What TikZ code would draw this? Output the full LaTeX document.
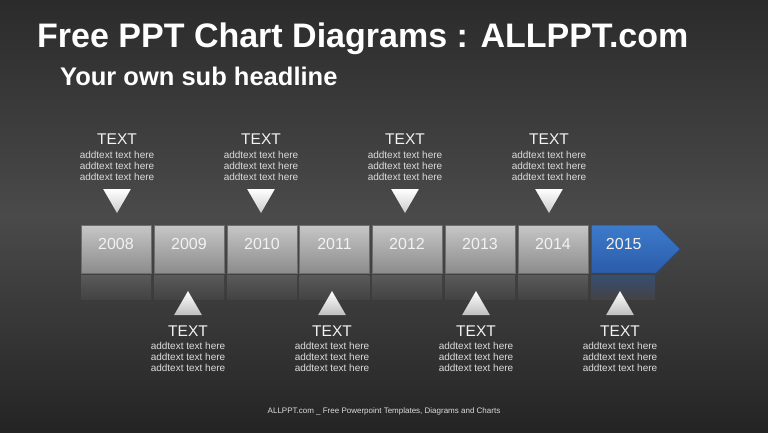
\documentclass[tikz,border=0pt]{standalone}
\usepackage{fontspec}
\setmainfont{Liberation Sans}
\usetikzlibrary{shapes.geometric,shapes.symbols,positioning}
\definecolor{bgtop}{HTML}{2B2B2B}
\definecolor{bgmid}{HTML}{4A4A4A}
\definecolor{bgbot}{HTML}{242424}
\definecolor{boxtop}{HTML}{C6C6C6}
\definecolor{boxbot}{HTML}{8C8C8C}
\definecolor{boxedge}{HTML}{6E6E6E}
\definecolor{bluetop}{HTML}{3E7BCB}
\definecolor{bluebot}{HTML}{2A5CAA}
\definecolor{headcol}{HTML}{F2F2F2}
\definecolor{bodycol}{HTML}{DCDCDC}
\definecolor{reflbg}{HTML}{434343}
\tikzstyle{yearbox}=[rectangle,minimum width=70pt,minimum height=48pt,inner sep=0pt,
    top color=boxtop,bottom color=boxbot,draw=boxedge,line width=0.5pt,
    text=headcol,text height=11.5pt,text depth=10pt,font=\fontsize{16}{16}\selectfont]
\tikzstyle{lastbox}=[signal,signal to=east,signal pointer angle=90,
    minimum width=89pt,minimum height=48pt,inner sep=0pt,
    top color=bluetop,bottom color=bluebot,draw=bluebot!80!black,line width=0.5pt,
    text=headcol,text height=11.5pt,text depth=10pt,font=\fontsize{16}{16}\selectfont]
\tikzstyle{refl}=[top color=reflbg!88!white,bottom color=reflbg]
\tikzstyle{markdown}=[regular polygon,regular polygon sides=3,shape border rotate=180,
    minimum size=32pt,inner sep=0pt,top color=white,bottom color=black!20]
\tikzstyle{markup}=[regular polygon,regular polygon sides=3,
    minimum size=32pt,inner sep=0pt,top color=white,bottom color=black!25]
\tikzstyle{head}=[text=headcol,inner sep=0pt,font=\fontsize{15.5}{16}\selectfont]
\tikzstyle{body}=[text=bodycol,inner sep=0pt,align=center,font=\fontsize{10}{11}\selectfont]

\begin{document}
\begin{tikzpicture}[x=1pt,y=-1pt]
    \useasboundingbox (0,0) rectangle (768,432);
    \fill[top color=bgtop,bottom color=bgbot,middle color=bgmid] (0,0) rectangle (768,432);

    % headlines
    \node[anchor=base west,inner sep=0pt,text=white,font=\bfseries\fontsize{34}{40}\selectfont]
        (title) at (37,47) {Free PPT Chart Diagrams : ALLPPT.com};
    \node[anchor=base west,inner sep=0pt,text=white,font=\bfseries\fontsize{25.5}{30}\selectfont]
        (subtitle) at (60,85) {Your own sub headline};

    % year boxes
    \foreach \x/\yr in {116/2008,189/2009,262/2010,334.5/2011,407/2012,480/2013,553/2014}
    {
        \fill[refl] ([yshift=-2pt]\x-35,273) rectangle ([yshift=-26pt]\x+35,273);
        \node[yearbox] (y\yr) at (\x,249) {\yr};
    }
    \fill[top color=bluebot!45!reflbg,bottom color=reflbg]
        (591,275) rectangle (655,299);
    \node[lastbox,anchor=west] (y2015) at (591,249) {2015};

    % markers above
    \foreach \x/\yr in {117/2008,261/2010,405/2012,549/2014}
    {
        \node[markdown] (m\yr) at (\x,197) {};
        \node[head] (h\yr) at (\x,139) {TEXT};
        \node[body] (b\yr) at (\x,166) {addtext text here\\addtext text here\\addtext text here};
    }

    % markers below
    \foreach \x/\yr in {188/2009,332/2011,476/2013,620/2015}
    {
        \node[markup] (m\yr) at (\x,307) {};
        \node[head] (h\yr) at (\x,331) {TEXT};
        \node[body] (b\yr) at (\x,357) {addtext text here\\addtext text here\\addtext text here};
    }

    \node[text=bodycol,inner sep=0pt,font=\fontsize{8}{8}\selectfont] (footer) at (384,411)
        {ALLPPT.com \_ Free Powerpoint Templates, Diagrams and Charts};
\end{tikzpicture}
\end{document}
